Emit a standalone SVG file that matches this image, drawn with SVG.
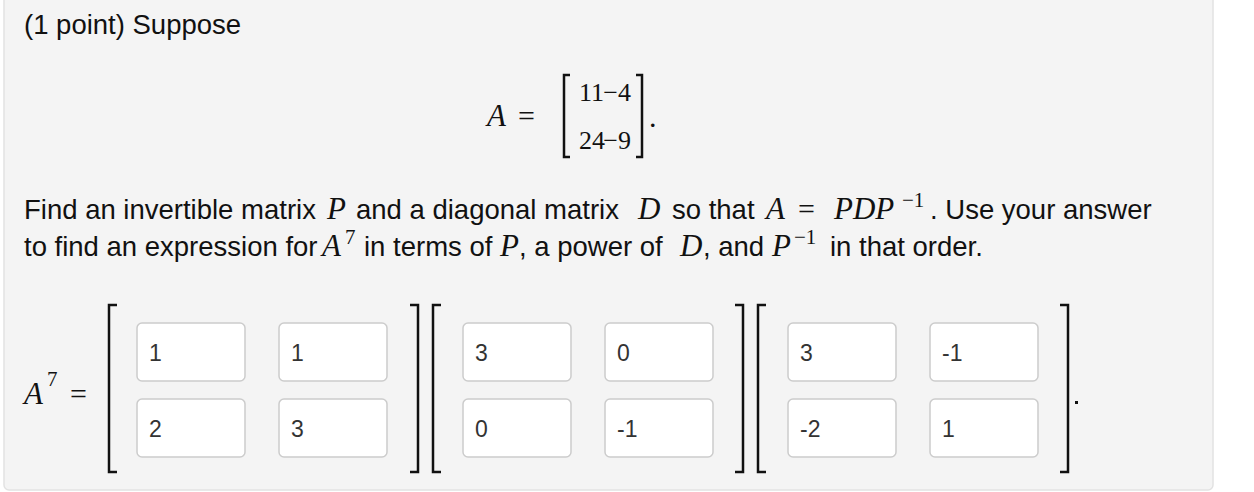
<svg xmlns="http://www.w3.org/2000/svg" width="1254" height="492" viewBox="0 0 1254 492">
<style>
.t{font-family:"Liberation Sans",Arial,sans-serif;font-size:27.5px;fill:#111}
.m{font-family:"Liberation Serif","Times New Roman",serif;font-size:30px;fill:#111}
.me{font-family:"Liberation Serif","Times New Roman",serif;font-size:26px;fill:#111}
.mi{font-family:"Liberation Serif","Times New Roman",serif;font-size:31px;font-style:italic;fill:#111}
.sup{font-family:"Liberation Serif","Times New Roman",serif;font-size:21px;fill:#111}
.br{fill:none;stroke:#111;stroke-width:2.5}
.cell{fill:#fff;stroke:#ccc;stroke-width:1.5}
.ct{font-family:"Liberation Sans",Arial,sans-serif;font-size:23px;fill:#333}
</style>
<rect x="0" y="0" width="1254" height="492" fill="#fff"/>
<rect x="4" y="-10" width="1209" height="500" rx="5" fill="#f4f4f4" stroke="#e2e2e2" stroke-width="1.5"/>
<text class="t" x="24" y="34">(1 point) Suppose</text>
<g id="matrixA">
<text class="mi" x="487" y="126">A</text>
<text class="m" x="518" y="126">=</text>
<path class="br" d="M570,75 H564 V157 H570"/>
<text class="me" x="579" y="101">11</text>
<text class="me" x="579" y="149">24</text>
<text class="me" x="631" y="101" text-anchor="end">−4</text>
<text class="me" x="631" y="149" text-anchor="end">−9</text>
<path class="br" d="M636,75 H642 V157 H636"/>
<text class="m" x="649" y="127">.</text>
</g>
<text class="t" y="219"><tspan x="24">Find an invertible matrix</tspan><tspan class="mi" x="327">P</tspan><tspan x="356">and a diagonal matrix</tspan><tspan class="mi" x="638">D</tspan><tspan x="672">so that</tspan><tspan class="mi" x="766">A</tspan><tspan class="m" x="798">=</tspan><tspan class="mi" x="834">PDP</tspan><tspan class="sup" x="902" dy="-12">−1</tspan><tspan x="930" dy="12">. Use your answer</tspan></text>
<text class="t" y="256"><tspan x="24">to find an expression for</tspan><tspan class="mi" x="322">A</tspan><tspan class="sup" x="345" dy="-12">7</tspan><tspan x="364" dy="12">in terms of</tspan><tspan class="mi" x="500">P</tspan><tspan x="519">, a power of</tspan><tspan class="mi" x="680">D</tspan><tspan x="703">, and</tspan><tspan class="mi" x="772">P</tspan><tspan class="sup" x="794" dy="-12">−1</tspan><tspan x="830" dy="12">in that order.</tspan></text>
<g id="answer">
<text class="mi" x="24" y="404">A</text>
<text class="sup" x="47" y="386">7</text>
<text class="m" x="70" y="404">=</text>
<path class="br" d="M117,305 H109 V472 H117"/>
<path class="br" d="M410,305 H418 V472 H410"/>
<path class="br" d="M441,305 H433 V472 H441"/>
<path class="br" d="M735,305 H743 V472 H735"/>
<path class="br" d="M766,305 H758 V472 H766"/>
<path class="br" d="M1060,305 H1068 V472 H1060"/>
<rect x="1075" y="401" width="3" height="3" fill="#111"/>
<g id="c11"><rect class="cell" x="137" y="323" width="108" height="58" rx="5"/><text class="ct" x="149" y="361">1</text></g>
<g id="c12"><rect class="cell" x="279" y="323" width="108" height="58" rx="5"/><text class="ct" x="291" y="361">1</text></g>
<g id="c21"><rect class="cell" x="137" y="399" width="108" height="58" rx="5"/><text class="ct" x="149" y="437">2</text></g>
<g id="c22"><rect class="cell" x="279" y="399" width="108" height="58" rx="5"/><text class="ct" x="291" y="437">3</text></g>
<g id="d11"><rect class="cell" x="463" y="323" width="108" height="58" rx="5"/><text class="ct" x="475" y="361">3</text></g>
<g id="d12"><rect class="cell" x="605" y="323" width="108" height="58" rx="5"/><text class="ct" x="617" y="361">0</text></g>
<g id="d21"><rect class="cell" x="463" y="399" width="108" height="58" rx="5"/><text class="ct" x="475" y="437">0</text></g>
<g id="d22"><rect class="cell" x="605" y="399" width="108" height="58" rx="5"/><text class="ct" x="617" y="437">-1</text></g>
<g id="e11"><rect class="cell" x="788" y="323" width="108" height="58" rx="5"/><text class="ct" x="800" y="361">3</text></g>
<g id="e12"><rect class="cell" x="930" y="323" width="108" height="58" rx="5"/><text class="ct" x="942" y="361">-1</text></g>
<g id="e21"><rect class="cell" x="788" y="399" width="108" height="58" rx="5"/><text class="ct" x="800" y="437">-2</text></g>
<g id="e22"><rect class="cell" x="930" y="399" width="108" height="58" rx="5"/><text class="ct" x="942" y="437">1</text></g>
</g>
<g id="connectors"/>
</svg>
